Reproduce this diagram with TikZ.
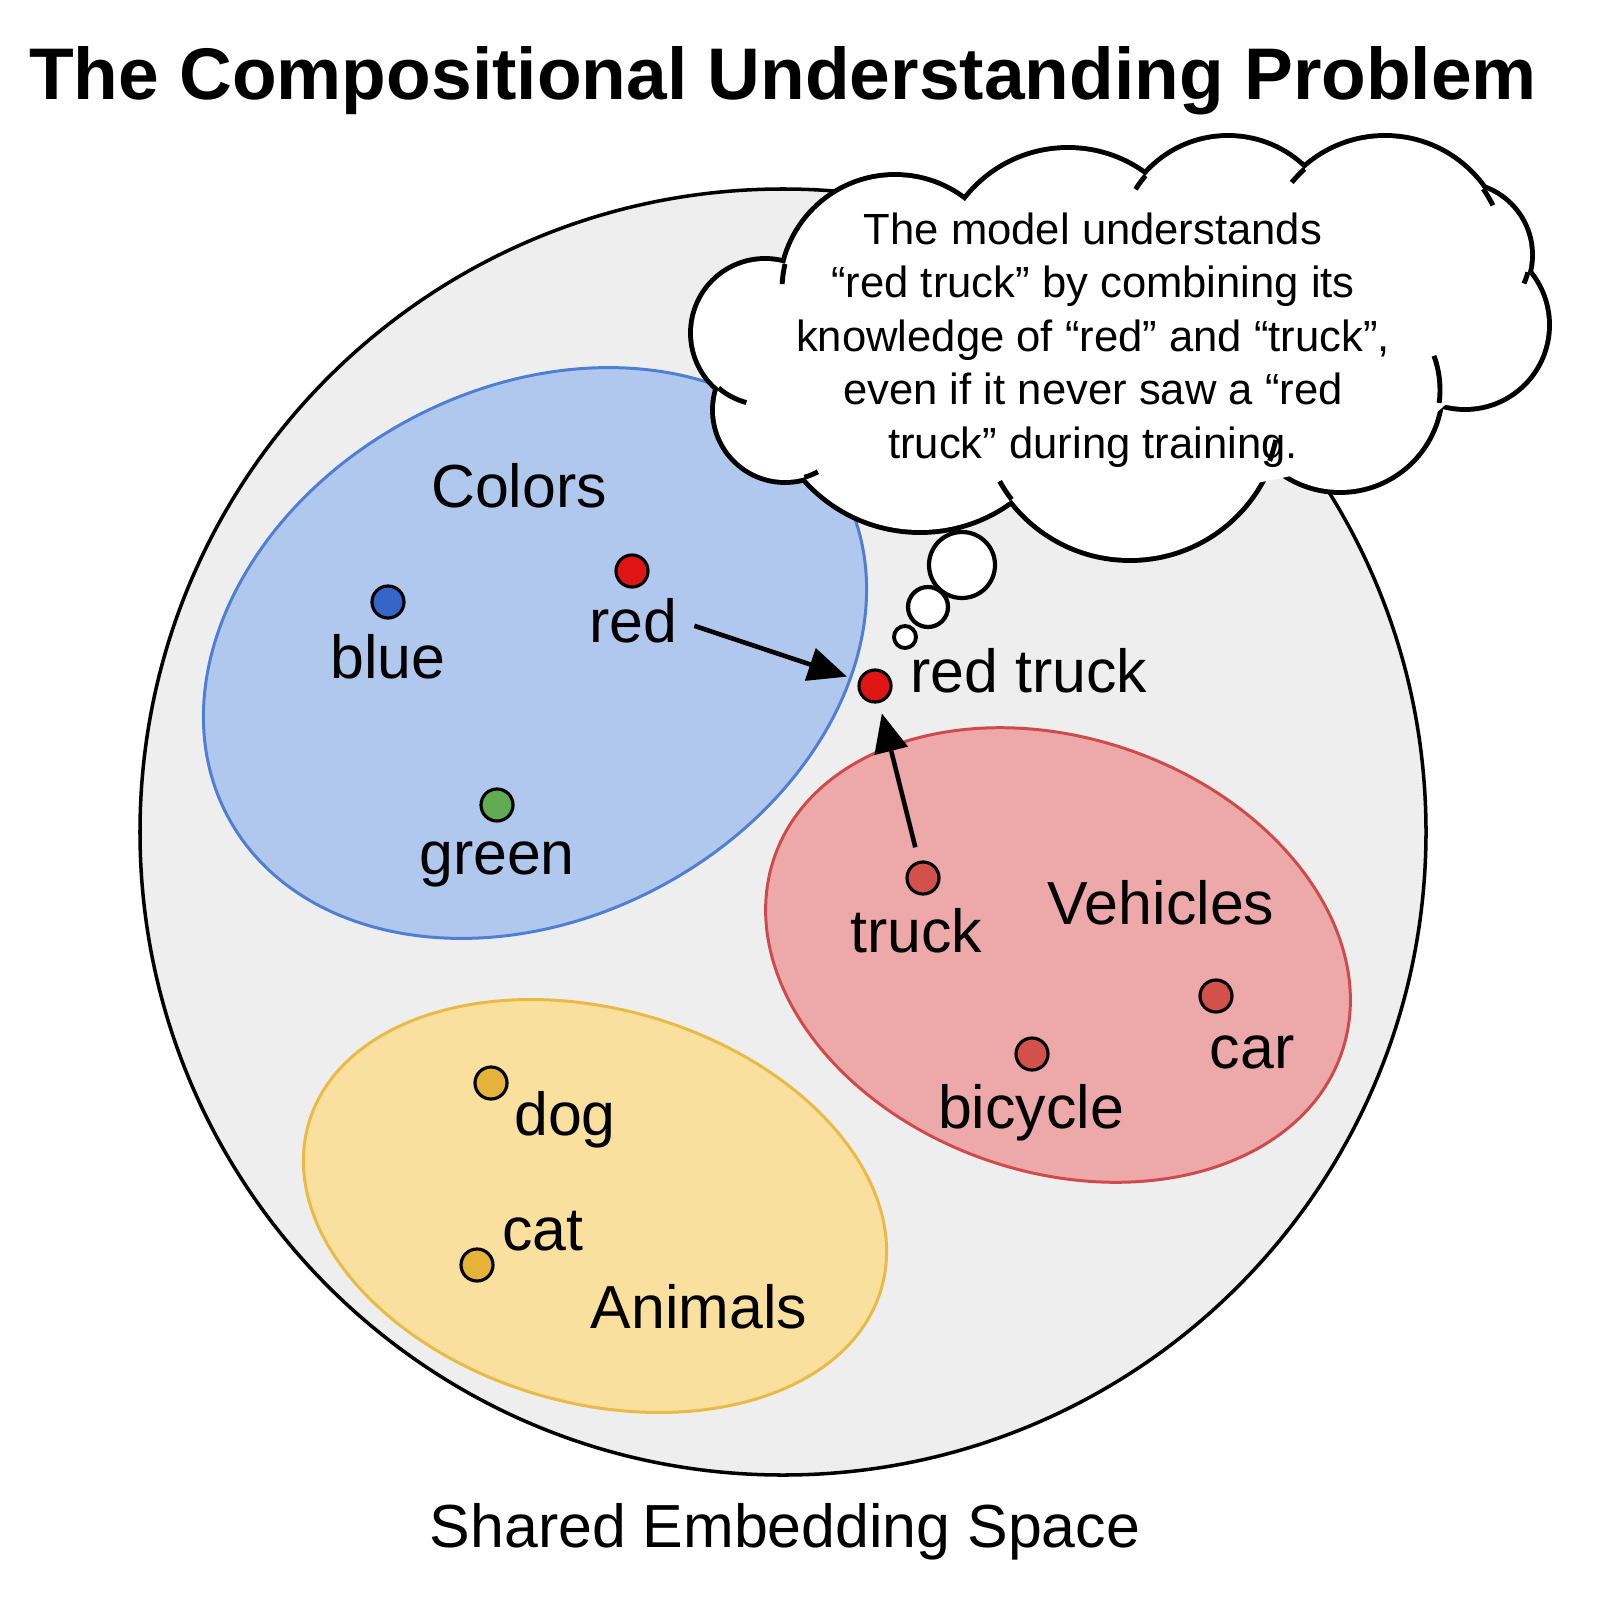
\documentclass[tikz,border=0pt]{standalone}
\usepackage{fontspec}
\setmainfont{Liberation Sans}
\usetikzlibrary{arrows.meta}
\definecolor{spaceFill}{HTML}{EEEEEE}
\definecolor{colorFill}{HTML}{B0C8EE}
\definecolor{colorLine}{HTML}{4F7FD2}
\definecolor{vehFill}{HTML}{EDA9A9}
\definecolor{vehLine}{HTML}{CF4B4B}
\definecolor{aniFill}{HTML}{FAE09E}
\definecolor{aniLine}{HTML}{E9BA45}
\definecolor{dotBlue}{HTML}{3565C8}
\definecolor{dotRed}{HTML}{E01414}
\definecolor{dotGreen}{HTML}{62AB52}
\definecolor{dotVeh}{HTML}{D2514B}
\definecolor{dotAni}{HTML}{E5B33A}
\begin{document}
\begin{tikzpicture}[x=0.01cm, y=-0.01cm,
  dot/.style={circle, draw=black, line width=0.9pt, minimum size=0.32cm, inner sep=0pt},
  lbl/.style={font=\fontsize{17.3}{20}\selectfont, inner sep=0pt, anchor=base},
  arr/.style={line width=1.3pt, -{Triangle[length=11pt, width=9.5pt]}}]
\useasboundingbox (0,0) rectangle (1600,1600);
\fill [white] (0,0) rectangle (1600,1600);
\node [font=\bfseries\fontsize{20.8}{24}\selectfont, anchor=base, inner sep=0pt] (Title) at (783,100) {The Compositional Understanding Problem};

\draw [fill=spaceFill, line width=1pt] (783,832) circle [radius=643];
\draw [fill=aniFill, draw=aniLine, line width=0.85pt, rotate around={-16:(595,1206)}] (595,1206) ellipse [x radius=298, y radius=197];
\draw [fill=vehFill, draw=vehLine, line width=0.85pt, rotate around={-19:(1058,955)}] (1058,955) ellipse [x radius=300, y radius=217];
\draw [fill=colorFill, draw=colorLine, line width=0.85pt, rotate around={28:(535,653)}] (535,653) ellipse [x radius=348, y radius=265];

\foreach \cx/\cy/\cr in {765/333/72, 785/410/70, 920/377/153, 1130/409/149, 1340/390/100, 1465/325/82, 1460/255/70, 1385/258/120, 1228/247/109, 1068/279/129, 895/290/113}
  \draw [line width=2.8pt] (\cx,\cy) circle [radius=\cr];
\foreach \cx/\cy/\cr in {765/333/72, 785/410/70, 920/377/153, 1130/409/149, 1340/390/100, 1465/325/82, 1460/255/70, 1385/258/120, 1228/247/109, 1068/279/129, 895/290/113}
  \fill [white] (\cx,\cy) circle [radius=\cr];
\fill [white] (1115,345) ellipse [x radius=360, y radius=150];
\foreach \cx/\cy/\cr/\a/\b in {895/290/113/193.3/183, 1228/247/109/220.8/212, 1385/258/120/227.8/219, 1385/258/120/324.9/334, 1460/255/70/14.3/24, 1340/390/100/7.4/-20, 1130/409/149/20.4/12, 1130/409/149/142.6/151, 785/410/70/73.9/62, 765/333/72/130.2/105}
  \draw [line width=1.4pt, domain=\a:\b, samples=12, variable=\t] plot ({\cx+\cr*cos(\t)}, {\cy+\cr*sin(\t)});
\draw [fill=white, line width=1.2pt] (962,565) circle [radius=33];
\draw [fill=white, line width=1.2pt] (928,607) circle [radius=20];
\draw [fill=white, line width=1.1pt] (905,637) circle [radius=11];
\node [font=\fontsize{12.4}{15.2}\selectfont, align=center, inner sep=0pt] (Q) at (1093,340) {The model understands\\ “red truck” by combining its\\ knowledge of “red” and “truck”,\\ even if it never saw a “red\\ truck” during training.};

\node [dot, fill=dotBlue] (B) at (388,602) {};
\node [dot, fill=dotRed] (R) at (632,571) {};
\node [dot, fill=dotGreen] (G) at (497,805) {};
\node [dot, fill=dotRed] (RT) at (875,686) {};
\node [dot, fill=dotVeh] (T) at (923,878) {};
\node [dot, fill=dotVeh] (C) at (1216,996) {};
\node [dot, fill=dotVeh] (Bi) at (1032,1054) {};
\node [dot, fill=dotAni] (D) at (491,1083) {};
\node [dot, fill=dotAni] (Ca) at (477,1265) {};

\node [lbl] (Lc) at (519,507) {Colors};
\node [lbl] (Lb) at (388,678) {blue};
\node [lbl] (Lr) at (633,642) {red};
\node [lbl] (Lg) at (497,874) {green};
\node [lbl, anchor=base west] (Lrt) at (910,692) {red truck};
\node [lbl] (Lt) at (916,952) {truck};
\node [lbl] (Lv) at (1161,924) {Vehicles};
\node [lbl] (Lca) at (1252,1068) {car};
\node [lbl] (Lbi) at (1031,1128) {bicycle};
\node [lbl] (Ld) at (565,1135) {dog};
\node [lbl] (Lcat) at (543,1250) {cat};
\node [lbl] (La) at (699,1328) {Animals};
\node [lbl] (Ls) at (785,1547) {Shared Embedding Space};

\draw [arr, shorten <=5pt, shorten >=3.4pt] (Lr.east) -- (RT);
\draw [arr, shorten <=4pt, shorten >=3pt] (T) -- (RT);
\end{tikzpicture}
\end{document}
